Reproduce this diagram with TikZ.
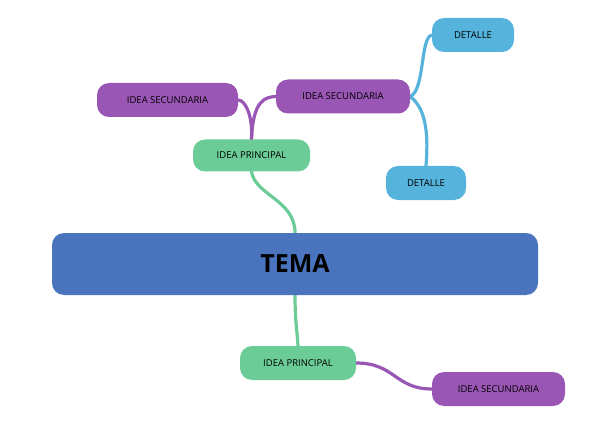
\documentclass[tikz,border=0pt]{standalone}
\usepackage{fontspec}
\setmainfont{Open Sans}
\usetikzlibrary{backgrounds}
\definecolor{tema}{HTML}{4A74BE}
\definecolor{ip}{HTML}{6CCC97}
\definecolor{isc}{HTML}{9A56B4}
\definecolor{det}{HTML}{56B3DC}
\tikzset{
 box/.style={rounded corners=12pt, minimum height=34pt, inner xsep=8pt, font=\fontsize{9.5}{11}\selectfont, text=black},
 link/.style={line width=3.2pt, line cap=round}
}
\begin{document}
\begin{tikzpicture}[x=1pt,y=-1pt]
\useasboundingbox (0,0) rectangle (600,425);
\node[box, fill=tema, minimum width=486pt, minimum height=62pt, font=\fontsize{25}{28}\selectfont\bfseries] (tema) at (295,264) {TEMA};
\node[box, fill=ip, minimum width=117pt, minimum height=32pt] (ip1) at (251.5,155.5) {IDEA PRINCIPAL};
\node[box, fill=ip, minimum width=116pt] (ip2) at (298,363) {IDEA PRINCIPAL};
\node[box, fill=isc, minimum width=141pt] (is1) at (167.5,100) {IDEA SECUNDARIA};
\node[box, fill=isc, minimum width=134pt] (is2) at (343,96.5) {IDEA SECUNDARIA};
\node[box, fill=isc, minimum width=133pt] (is3) at (498.5,389) {IDEA SECUNDARIA};
\node[box, fill=det, minimum width=82pt] (d1) at (473,35) {DETALLE};
\node[box, fill=det, minimum width=80pt] (d2) at (426,183) {DETALLE};
\begin{scope}[on background layer]
\draw[link, ip] (tema.north) .. controls (295,200) and (255,195) .. (ip1.south);
\draw[link, ip] (tema.south) .. controls (295,320) and (297,330) .. (ip2.north);
\draw[link, isc] (ip1.north) .. controls (253,115) and (245,100) .. (is1.east);
\draw[link, isc] (ip1.north) .. controls (253,100) and (265,97) .. (is2.west);
\draw[link, det] (is2.east) .. controls (425,90) and (420,38) .. (d1.west);
\draw[link, det] (is2.east) .. controls (428,110) and (428,140) .. (d2.north);
\draw[link, isc] (ip2.east) .. controls (395,363) and (395,389) .. (is3.west);
\end{scope}
\end{tikzpicture}
\end{document}
